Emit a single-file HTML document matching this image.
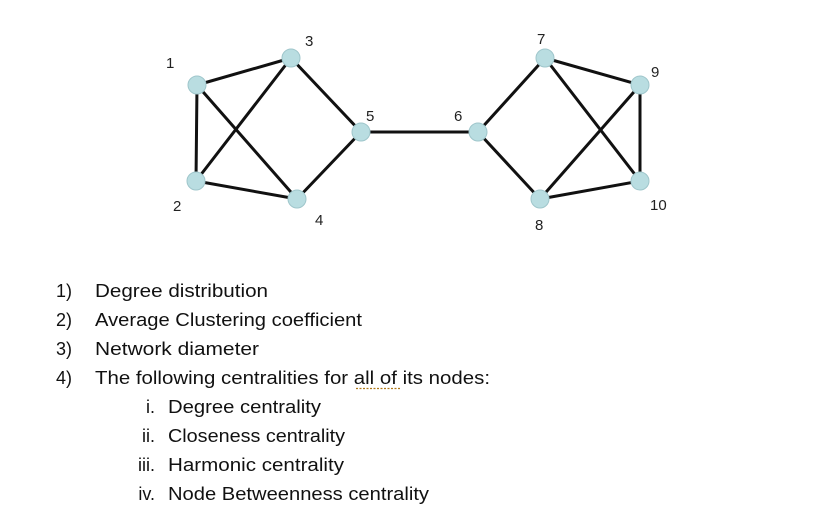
<!DOCTYPE html>
<html><head><meta charset="utf-8"><style>
html,body{margin:0;padding:0;background:#fff;}
svg{display:block;}
</style></head><body>
<svg width="822" height="519" viewBox="0 0 822 519" xmlns="http://www.w3.org/2000/svg">
<g stroke="#111" stroke-width="3" stroke-linecap="round">
<line x1="197" y1="85" x2="291" y2="58"/>
<line x1="197" y1="85" x2="196" y2="181"/>
<line x1="197" y1="85" x2="297" y2="199"/>
<line x1="196" y1="181" x2="291" y2="58"/>
<line x1="196" y1="181" x2="297" y2="199"/>
<line x1="291" y1="58" x2="361" y2="132"/>
<line x1="297" y1="199" x2="361" y2="132"/>
<line x1="361" y1="132" x2="478" y2="132"/>
<line x1="478" y1="132" x2="545" y2="58"/>
<line x1="478" y1="132" x2="540" y2="199"/>
<line x1="545" y1="58" x2="640" y2="85"/>
<line x1="545" y1="58" x2="640" y2="181"/>
<line x1="540" y1="199" x2="640" y2="85"/>
<line x1="540" y1="199" x2="640" y2="181"/>
<line x1="640" y1="85" x2="640" y2="181"/>
</g>
<g fill="#b9dde1" stroke="#9fc6cb" stroke-width="1">
<circle cx="197" cy="85" r="9"/>
<circle cx="196" cy="181" r="9"/>
<circle cx="291" cy="58" r="9"/>
<circle cx="297" cy="199" r="9"/>
<circle cx="361" cy="132" r="9"/>
<circle cx="478" cy="132" r="9"/>
<circle cx="545" cy="58" r="9"/>
<circle cx="540" cy="199" r="9"/>
<circle cx="640" cy="85" r="9"/>
<circle cx="640" cy="181" r="9"/>
</g>
<g font-family="Liberation Sans, sans-serif" font-size="15" fill="#222">
<text x="166" y="68">1</text>
<text x="173" y="211">2</text>
<text x="305" y="46">3</text>
<text x="315" y="225">4</text>
<text x="366" y="121">5</text>
<text x="454" y="121">6</text>
<text x="537" y="44">7</text>
<text x="535" y="230">8</text>
<text x="651" y="77">9</text>
<text x="650" y="210">10</text>
</g>
<g font-family="Liberation Sans, sans-serif" font-size="18" fill="#111">
<text x="56" y="297">1)</text><text x="95" y="297" textLength="173" lengthAdjust="spacingAndGlyphs">Degree distribution</text>
<text x="56" y="326">2)</text><text x="95" y="326" textLength="267" lengthAdjust="spacingAndGlyphs">Average Clustering coefficient</text>
<text x="56" y="355">3)</text><text x="95" y="355" textLength="164" lengthAdjust="spacingAndGlyphs">Network diameter</text>
<text x="56" y="384">4)</text><text x="95" y="384" textLength="395" lengthAdjust="spacingAndGlyphs">The following centralities for all of its nodes:</text>
<text x="155" y="413" text-anchor="end">i.</text><text x="168" y="413" textLength="153" lengthAdjust="spacingAndGlyphs">Degree centrality</text>
<text x="155" y="442" text-anchor="end">ii.</text><text x="168" y="442" textLength="177" lengthAdjust="spacingAndGlyphs">Closeness centrality</text>
<text x="155" y="471" text-anchor="end">iii.</text><text x="168" y="471" textLength="176" lengthAdjust="spacingAndGlyphs">Harmonic centrality</text>
<text x="155" y="500" text-anchor="end">iv.</text><text x="168" y="500" textLength="261" lengthAdjust="spacingAndGlyphs">Node Betweenness centrality</text>
</g>
<line x1="356" y1="388.5" x2="400" y2="388.5" stroke="#b07a1a" stroke-width="1.3" stroke-dasharray="2,1.5"/>
</svg>
</body></html>
